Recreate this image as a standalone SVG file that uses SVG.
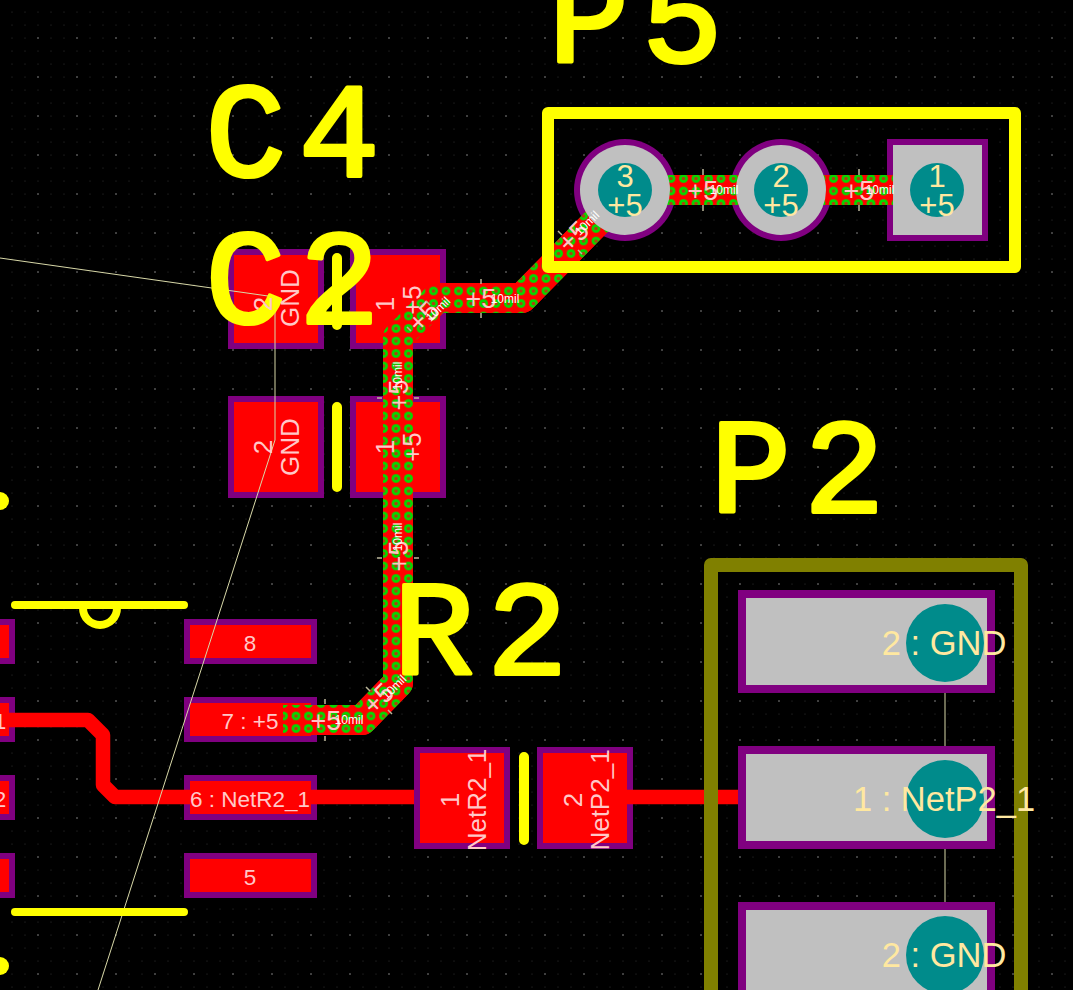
<svg xmlns="http://www.w3.org/2000/svg" width="1073" height="990" viewBox="0 0 1073 990">
<style>
text{font-family:"Liberation Sans",Arial,sans-serif;text-anchor:middle}
.smd{fill:#f00;stroke:#800080;stroke-width:6}
.ring{fill:#800080}
.grey{fill:#c0c0c0}
.teal{fill:#008b8b}
.thp{fill:#c0c0c0;stroke:#800080;stroke-width:8}
text.ref{font-family:"Liberation Mono",monospace;fill:#ff0;stroke:#ff0;stroke-width:4;stroke-linejoin:round;font-size:134px;letter-spacing:13px}
.pl{fill:#ffc8c8;font-size:26px}
.pl2{fill:#ffc8c8;font-size:22.5px}
.th{fill:#ffe8a0;font-size:31px}
.th2{fill:#ffe8a0;font-size:34.5px}
.net{fill:#ffc4c4;font-size:27px}
.mil{fill:#fff;font-size:12px}
.silk{fill:none;stroke:#ff0;stroke-width:8;stroke-linecap:round;stroke-linejoin:round}
.tr{fill:none;stroke:#f00;stroke-linejoin:round}
.thin{fill:none;stroke:#d8d8a8;stroke-width:1}
.tick{stroke:#bdb89c;stroke-width:1.5;fill:none}
</style>
<defs>
<pattern id="grid" width="39" height="39" patternUnits="userSpaceOnUse" x="-2" y="-2">
<rect width="39" height="39" fill="#000"/>
<g fill="#3c3c3c"><circle cx="1" cy="1" r=".5"/><circle cx="14" cy="1" r=".5"/><circle cx="27" cy="1" r=".5"/><circle cx="1" cy="14" r=".5"/><circle cx="14" cy="14" r=".5"/><circle cx="27" cy="14" r=".5"/><circle cx="1" cy="27" r=".5"/><circle cx="14" cy="27" r=".5"/><circle cx="27" cy="27" r=".5"/></g>
<circle cx="1" cy="1" r=".7" fill="#999"/>
</pattern>
<pattern id="dots" width="12.5" height="12.5" patternUnits="userSpaceOnUse" x="2.25" y="-2.75">
<rect width="12.5" height="12.5" fill="#f00"/>
<circle cx="6.25" cy="6.25" r="4.4" fill="#0d0"/>
<circle cx="6.25" cy="6.25" r="1.8" fill="#b04010"/>
</pattern>
</defs>
<rect width="1073" height="990" fill="url(#grid)"/>

<g id="pad-outlines">
<circle class="ring" cx="625" cy="190" r="51"/>
<circle class="ring" cx="781" cy="190" r="51"/>
<rect x="887" y="139" width="101" height="102" fill="#800080"/>
<rect class="smd" x="231" y="252" width="90" height="94"/>
<rect class="smd" x="353" y="252" width="90" height="94"/>
<rect class="smd" x="231" y="399" width="90" height="96"/>
<rect class="smd" x="353" y="399" width="90" height="96"/>
<rect class="smd" x="187" y="622" width="127" height="39"/>
<rect class="smd" x="187" y="700" width="127" height="39"/>
<rect class="smd" x="187" y="778" width="127" height="39"/>
<rect class="smd" x="187" y="856" width="127" height="39"/>
<rect class="smd" x="-20" y="622" width="32" height="39"/>
<rect class="smd" x="-20" y="700" width="32" height="39"/>
<rect class="smd" x="-20" y="778" width="32" height="39"/>
<rect class="smd" x="-20" y="856" width="32" height="39"/>
<rect class="smd" x="417" y="750" width="90" height="96"/>
<rect class="smd" x="540" y="750" width="90" height="96"/>
</g>

<g id="connectors">
<path class="tr" stroke-width="14.5" d="M0 720H88L103 735V785L115 797H414"/>
<path class="tr" stroke-width="14.5" d="M610 797H745"/>
<path class="tr" stroke-width="30" d="M625 193L522 298H437L398 337V683L362 720H280"/>
<path fill="none" stroke="url(#dots)" stroke-width="30" stroke-linejoin="round" d="M625 193L522 298H437L398 337V683L362 720H283"/>
<path class="tr" stroke-width="30" d="M625 190H937"/>
<path fill="none" stroke="url(#dots)" stroke-width="30" d="M625 190H937"/>
<path class="thin" d="M0 258L275 297V440L98 990"/>
<path class="thin" d="M945 643V955"/>
</g>

<g id="P2-outline"><path d="M711 990V565H1021V990" fill="none" stroke="#808000" stroke-width="14" stroke-linejoin="round"/></g>

<g id="P5-pad-3"><circle class="grey" cx="625" cy="190" r="45"/><circle class="teal" cx="625" cy="190" r="27"/></g>
<g id="P5-pad-2"><circle class="grey" cx="781" cy="190" r="45"/><circle class="teal" cx="781" cy="190" r="27"/></g>
<g id="P5-pad-1"><rect class="grey" x="893" y="145" width="89" height="90"/><circle class="teal" cx="937" cy="190" r="27"/></g>
<g id="P2-pad-a"><rect class="thp" x="742" y="594" width="249" height="95"/><circle class="teal" cx="945" cy="643" r="39"/></g>
<g id="P2-pad-b"><rect class="thp" x="742" y="750" width="249" height="95"/><circle class="teal" cx="945" cy="799" r="39"/></g>
<g id="P2-pad-c"><rect class="thp" x="742" y="906" width="249" height="95"/><circle class="teal" cx="945" cy="955" r="39"/></g>

<g id="silk">
<rect class="silk" x="548" y="113" width="467" height="154" style="stroke-width:12"/>
<path class="silk" style="stroke-width:10" d="M337 258V325M337 407V487M524 757V840"/>
<path class="silk" d="M15 605H184M15 912H184"/>
<path class="silk" d="M83 608A17 17 0 0 0 117 608"/>
<circle cx="0" cy="501" r="9" fill="#ff0"/>
<circle cx="0" cy="966" r="9" fill="#ff0"/>
</g>

<g id="ref-labels">
<text class="ref" x="299" y="176">C4</text>
<text class="ref" x="299" y="323">C2</text>
<text class="ref" x="642" y="62">P5</text>
<text class="ref" x="804" y="512">P2</text>
<text class="ref" x="487" y="674">R2</text>
</g>

<g id="pad-labels">
<text class="pl" transform="translate(272,304) rotate(-90)">2</text>
<text class="pl" transform="translate(299,298) rotate(-90)">GND</text>
<text class="pl" transform="translate(394,304) rotate(-90)">1</text>
<text class="pl" transform="translate(421,300) rotate(-90)">+5</text>
<text class="pl" transform="translate(272,447) rotate(-90)">2</text>
<text class="pl" transform="translate(299,447) rotate(-90)">GND</text>
<text class="pl" transform="translate(394,447) rotate(-90)">1</text>
<text class="pl" transform="translate(421,447) rotate(-90)">+5</text>
<text class="pl" transform="translate(459,800) rotate(-90)">1</text>
<text class="pl" transform="translate(486,800) rotate(-90)">NetR2_1</text>
<text class="pl" transform="translate(582,800) rotate(-90)">2</text>
<text class="pl" transform="translate(609,800) rotate(-90)">NetP2_1</text>
<text class="pl2" x="250" y="651">8</text>
<text class="pl2" x="250" y="729">7 : +5</text>
<text class="pl2" x="250" y="807">6 : NetR2_1</text>
<text class="pl2" x="250" y="885">5</text>
<text class="pl2" x="0" y="729">1</text>
<text class="pl2" x="0" y="807">2</text>
<text class="th" x="625" y="187">3</text><text class="th" x="625" y="216">+5</text>
<text class="th" x="781" y="187">2</text><text class="th" x="781" y="216">+5</text>
<text class="th" x="937" y="187">1</text><text class="th" x="937" y="216">+5</text>
<text class="th2" x="944" y="655">2 : GND</text>
<text class="th2" x="944" y="811">1 : NetP2_1</text>
<text class="th2" x="944" y="967">2 : GND</text>
</g>

<g id="trace-labels">
<text class="net" x="703" y="200">+5</text><text class="mil" x="724" y="194">10mil</text>
<text class="net" x="859" y="200">+5</text><text class="mil" x="880" y="194">10mil</text>
<text class="net" x="481" y="308">+5</text><text class="mil" x="505" y="303">10mil</text>
<text class="net" transform="translate(580,243) rotate(-45)">+5</text><text class="mil" transform="translate(590,226) rotate(-45)">10mil</text>
<text class="net" transform="translate(430,323) rotate(-45)">+5</text><text class="mil" transform="translate(441,312) rotate(-45)">10mil</text>
<text class="net" transform="translate(408,395) rotate(-90)">+5</text><text class="mil" transform="translate(402,376) rotate(-90)">10mil</text>
<text class="net" transform="translate(408,556) rotate(-90)">+5</text><text class="mil" transform="translate(402,537) rotate(-90)">10mil</text>
<text class="net" transform="translate(385,705) rotate(-45)">+5</text><text class="mil" transform="translate(397,690) rotate(-45)">10mil</text>
<text class="net" x="326" y="730">+5</text><text class="mil" x="349" y="724">10mil</text>
</g>

<g id="ticks">
<path class="tick" d="M703 169v6M703 205v6M859 169v6M859 205v6M481 279v5M481 313v5M325 699v5M325 736v5M377 398h5M414 398h5M377 558h5M414 558h5M558 231l4 4M582 254l-4-4M366 687l4 4M392 714l-4-4M407 327l4 4M430 305l-4-4"/>
</g>
</svg>
